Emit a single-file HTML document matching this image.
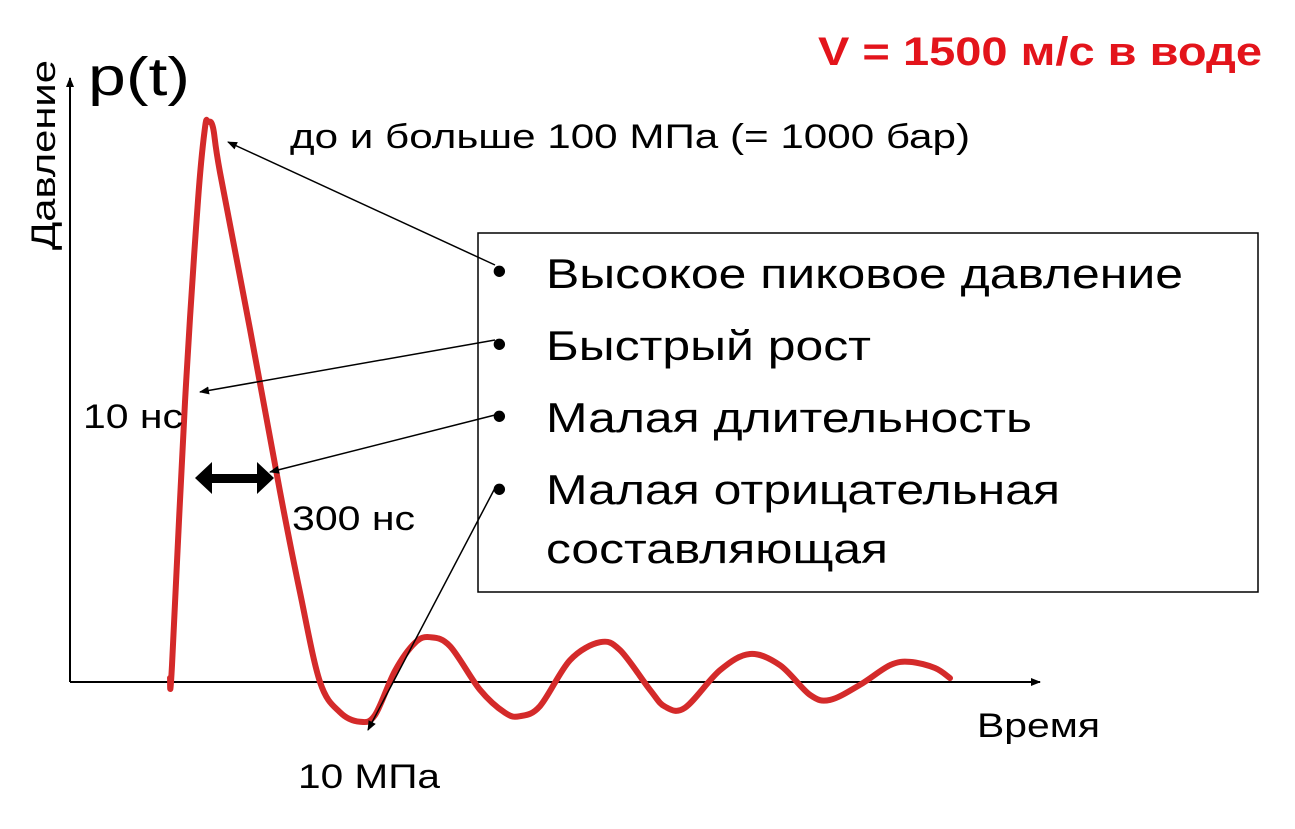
<!DOCTYPE html>
<html><head><meta charset="utf-8"><style>
body{margin:0;background:#fff;}
svg text{font-family:"Liberation Sans",sans-serif;}
</style></head><body>
<svg id="chart" width="1295" height="824" viewBox="0 0 1295 824" xmlns="http://www.w3.org/2000/svg">
<defs>
<marker id="ah" markerWidth="10" markerHeight="8" refX="9" refY="4" orient="auto" markerUnits="userSpaceOnUse"><path d="M0,0 L10,4 L0,8 z" fill="#000"/></marker>
</defs>
<g>
<line x1="70" y1="682" x2="1040" y2="682" stroke="#000" stroke-width="2" marker-end="url(#ah)"/>
<line x1="70" y1="682" x2="70" y2="78" stroke="#000" stroke-width="2" marker-end="url(#ah)"/>
</g>
<text x="88" y="95" font-size="54" textLength="102" lengthAdjust="spacingAndGlyphs">p(t)</text>
<text transform="translate(55,250) rotate(-90)" font-size="34" textLength="190" lengthAdjust="spacingAndGlyphs">Давление</text>
<text x="977" y="737" font-size="34" textLength="123" lengthAdjust="spacingAndGlyphs">Время</text>
<text x="818" y="65" font-size="40" font-weight="bold" fill="#e3141b" textLength="444" lengthAdjust="spacingAndGlyphs">V = 1500 м/с в воде</text>
<g id="series"></g>
<rect x="478" y="233" width="780" height="359" fill="none" stroke="#000" stroke-width="1.5"/>
<g font-size="42">
<text x="492" y="285">•</text>
<text x="546" y="288" textLength="637" lengthAdjust="spacingAndGlyphs">Высокое пиковое давление</text>
<text x="492" y="358">•</text>
<text x="546" y="360" textLength="325" lengthAdjust="spacingAndGlyphs">Быстрый рост</text>
<text x="492" y="430">•</text>
<text x="546" y="432" textLength="486" lengthAdjust="spacingAndGlyphs">Малая длительность</text>
<text x="492" y="503">•</text>
<text x="546" y="504" textLength="514" lengthAdjust="spacingAndGlyphs">Малая отрицательная</text>
<text x="546" y="563" textLength="342" lengthAdjust="spacingAndGlyphs">составляющая</text>
</g>
<g font-size="34">
<text x="290" y="148" textLength="680" lengthAdjust="spacingAndGlyphs">до и больше 100 МПа  (= 1000 бар)</text>
<text x="83" y="428" textLength="100" lengthAdjust="spacingAndGlyphs">10 нс</text>
<text x="292" y="530" textLength="123" lengthAdjust="spacingAndGlyphs">300 нс</text>
<text x="298" y="788" textLength="142" lengthAdjust="spacingAndGlyphs">10 МПа</text>
</g>
<g stroke="#000" stroke-width="1.5">
<line x1="495" y1="265" x2="228" y2="142" marker-end="url(#ah)"/>
<line x1="495" y1="340" x2="200" y2="392" marker-end="url(#ah)"/>
<line x1="495" y1="415" x2="270" y2="472" marker-end="url(#ah)"/>
<line x1="495" y1="488" x2="368" y2="730" marker-end="url(#ah)"/>
</g>
<g>
<rect x="208" y="474" width="52" height="9" fill="#000"/>
<path d="M195,478 L212,462 L212,494 z" fill="#000"/>
<path d="M274,478 L257,462 L257,494 z" fill="#000"/>
</g>
</svg>
<script>
// time (arbitrary units) and pressure (MPa)
const times = [0,0.2,1.5,2.8,3.5,3.8,4.3,5,8,11,13,15,17,19,20.5,22.5,24.5,26,28,31,33.5,35,37,40,43,45,48,49.5,51.5,55,58,61,64,66,69,72,74,76.5,78];
const pressures = [0.7,3,50,86,99,100,99,91,63,34,16,0,-5.4,-7.1,-5.9,2,7,8,6.4,-1.4,-5.5,-6.1,-4.3,3.9,7.1,5.7,-1.4,-4.4,-4.6,2.1,5,3,-2.3,-3.2,-0.5,3,3.6,2.5,0.7];
const xScale = t => 170 + t*10;
const yScale = p => 682 - p*5.6;
const g = document.getElementById('series');
const pts = times.map((t,i)=>[xScale(t), yScale(pressures[i])]);
let d = 'M'+pts[0][0]+','+pts[0][1];
for(let i=0;i<pts.length-1;i++){
  const p0=pts[Math.max(0,i-1)],p1=pts[i],p2=pts[i+1],p3=pts[Math.min(pts.length-1,i+2)];
  const c1=[p1[0]+(p2[0]-p0[0])/6,p1[1]+(p2[1]-p0[1])/6];
  const c2=[p2[0]-(p3[0]-p1[0])/6,p2[1]-(p3[1]-p1[1])/6];
  d+=' C'+c1+' '+c2+' '+p2;
}
const path=document.createElementNS('http://www.w3.org/2000/svg','path');
path.setAttribute('d',d);
path.setAttribute('fill','none');
path.setAttribute('stroke','#d42a2a');
path.setAttribute('stroke-width','6');
path.setAttribute('stroke-linejoin','round');
path.setAttribute('stroke-linecap','round');


g.appendChild(path);
</script>
</body></html>
